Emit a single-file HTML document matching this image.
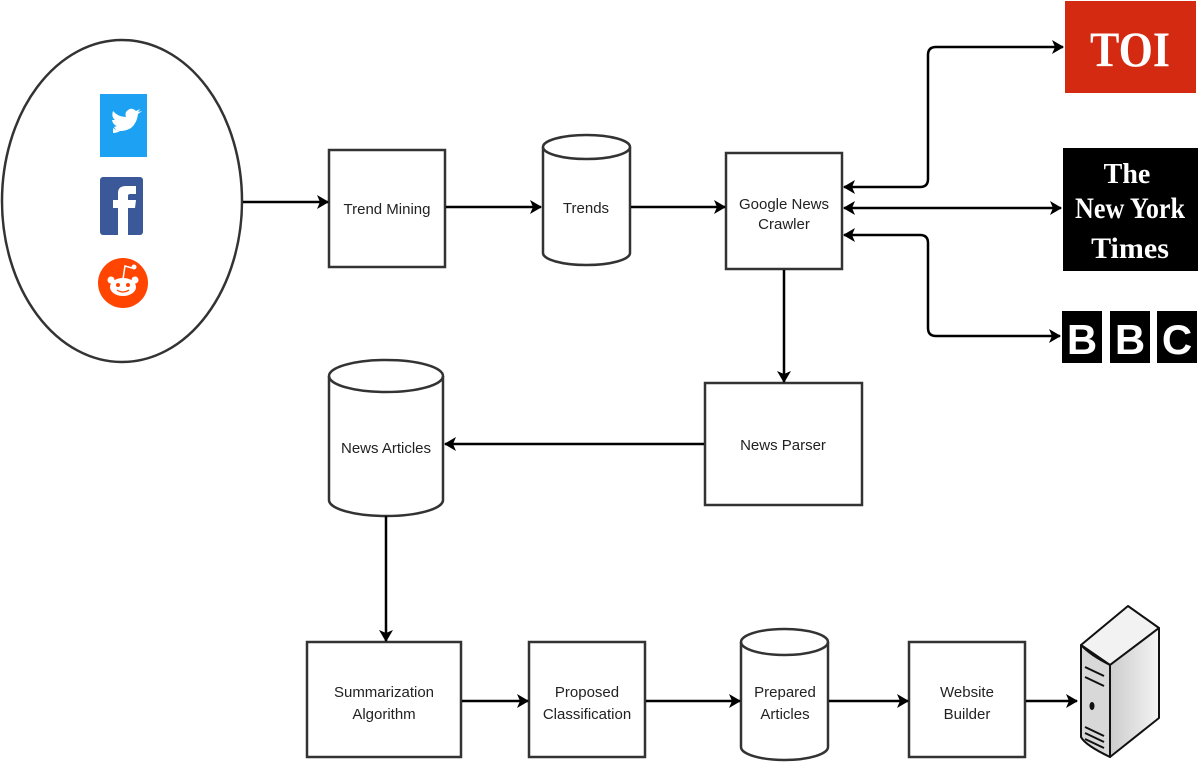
<!DOCTYPE html>
<html><head><meta charset="utf-8"><style>
html,body{margin:0;padding:0;background:#fff;}
svg{display:block}
text{font-family:"Liberation Sans",sans-serif;font-size:15px;fill:#222;}
</style></head><body>
<svg width="1200" height="763" viewBox="0 0 1200 763" xmlns="http://www.w3.org/2000/svg">
<defs>
<marker id="a" markerWidth="12" markerHeight="14" refX="11" refY="7" orient="auto" markerUnits="userSpaceOnUse"><path d="M0,0 L12,7 L0,14 L3,7 Z" fill="#000"/></marker>
<marker id="as" markerWidth="12" markerHeight="14" refX="1" refY="7" orient="auto" markerUnits="userSpaceOnUse"><path d="M12,0 L0,7 L12,14 L9,7 Z" fill="#000"/></marker>
<linearGradient id="g" x1="0" x2="1"><stop offset="0" stop-color="#ccc"/><stop offset="1" stop-color="#f4f4f4"/></linearGradient>
</defs>
<g fill="none" stroke="#333" stroke-width="2.5">
<ellipse cx="122" cy="201" rx="120" ry="161"/>
<rect x="329" y="150" width="116" height="117"/>
<rect x="726" y="153" width="116" height="116"/>
<rect x="705" y="383" width="157" height="122"/>
<rect x="307" y="642" width="154" height="115"/>
<rect x="529" y="642" width="116" height="115"/>
<rect x="909" y="642" width="116" height="115"/>
<path d="M543,147 V253 A43.5,12 0 0 0 630,253 V147"/><ellipse cx="586.5" cy="147" rx="43.5" ry="12"/>
<path d="M329,376 V500 A57,16 0 0 0 443,500 V376"/><ellipse cx="386" cy="376" rx="57" ry="16"/>
<path d="M741,642 V747 A43.5,13 0 0 0 828,747 V642"/><ellipse cx="784.5" cy="642" rx="43.5" ry="13"/>
</g>
<g fill="none" stroke="#000" stroke-width="2.5">
<line x1="243" y1="202" x2="328" y2="202" marker-end="url(#a)"/>
<line x1="446" y1="207" x2="541" y2="207" marker-end="url(#a)"/>
<line x1="631" y1="207" x2="725" y2="207" marker-end="url(#a)"/>
<path d="M844,187 H920 Q928,187 928,179 V55 Q928,47 936,47 H1063" marker-start="url(#as)" marker-end="url(#a)"/>
<line x1="844" y1="208" x2="1061" y2="208" marker-start="url(#as)" marker-end="url(#a)"/>
<path d="M844,235 H920 Q928,235 928,243 V328 Q928,336 936,336 H1060" marker-start="url(#as)" marker-end="url(#a)"/>
<line x1="784" y1="270" x2="784" y2="382" marker-end="url(#a)"/>
<line x1="704" y1="444" x2="445" y2="444" marker-end="url(#a)"/>
<line x1="386" y1="516" x2="386" y2="641" marker-end="url(#a)"/>
<line x1="462" y1="701" x2="528" y2="701" marker-end="url(#a)"/>
<line x1="646" y1="701" x2="740" y2="701" marker-end="url(#a)"/>
<line x1="829" y1="701" x2="908" y2="701" marker-end="url(#a)"/>
<line x1="1026" y1="701" x2="1077" y2="701" marker-end="url(#a)"/>
</g>
<rect x="100" y="94" width="47" height="63" fill="#1da1f2"/>
<path d="M113,128 q8,6 18,0 q6,-5 7,-14 l4,-3 -4,1 2,-3 -4,2 q-5,-5 -10,1 q-1,3 0,5 q-8,0 -13,-6 q-2,6 2,9 l-3,0 q1,5 5,6 l-3,1 q2,4 6,4 q-3,2 -7,2z" fill="#fff"/>
<rect x="100" y="177" width="43" height="58" rx="3" fill="#3b5998"/>
<path d="M118,235 V208 H113 V200 H118 V193 Q118,186 126,186 H136 V194 H130 Q128,194 128,196 V200 H136 L135,208 H128 V235Z" fill="#fff"/>
<circle cx="123" cy="283" r="25" fill="#ff4500"/>
<ellipse cx="123" cy="287" rx="13" ry="9" fill="#fff"/>
<circle cx="111" cy="280" r="3.5" fill="#fff"/><circle cx="135" cy="280" r="3.5" fill="#fff"/>
<path d="M123,279 L125,266 L132,268" stroke="#fff" stroke-width="1.5" fill="none"/><circle cx="134" cy="267" r="2.5" fill="#fff"/>
<circle cx="118" cy="285" r="2" fill="#ff4500"/><circle cx="128" cy="285" r="2" fill="#ff4500"/>
<path d="M117,290 q6,4 12,0" stroke="#ff4500" stroke-width="1.3" fill="none"/>
<rect x="1065" y="1" width="131" height="92" fill="#d42a12"/>
<text x="1130" y="66" text-anchor="middle" textLength="80" lengthAdjust="spacingAndGlyphs" style="font-family:'Liberation Serif',serif;font-size:50px;font-weight:bold;fill:#fff">TOI</text>
<rect x="1063" y="148" width="135" height="123" fill="#000"/>
<text x="1127" y="183" text-anchor="middle" style="font-family:'Liberation Serif',serif;font-size:28px;font-weight:bold;fill:#fff">The</text>
<text x="1130" y="218" text-anchor="middle" textLength="110" lengthAdjust="spacingAndGlyphs" style="font-family:'Liberation Serif',serif;font-size:30px;font-weight:bold;fill:#fff">New York</text>
<text x="1130" y="258" text-anchor="middle" style="font-family:'Liberation Serif',serif;font-size:30px;font-weight:bold;fill:#fff">Times</text>
<rect x="1062" y="311" width="40" height="52" fill="#000"/><rect x="1110" y="311" width="40" height="52" fill="#000"/><rect x="1157" y="311" width="40" height="52" fill="#000"/>
<g text-anchor="middle">
<text x="1082" y="354" style="font-size:42px;font-weight:bold;fill:#fff">B</text><text x="1130" y="354" style="font-size:42px;font-weight:bold;fill:#fff">B</text><text x="1177" y="354" style="font-size:42px;font-weight:bold;fill:#fff">C</text></g>
<g stroke="#111" stroke-width="2" stroke-linejoin="round">
<path d="M1081,645 L1128,606 L1159,628 L1110,665 Z" fill="#f2f2f2"/>
<path d="M1110,665 L1159,628 L1159,718 L1110,757 Z" fill="url(#g)"/>
<path d="M1081,645 Q1090,655 1110,665 L1110,757 Q1085,745 1081,737 Z" fill="#d8d8d8"/>
</g>
<g stroke="#111" stroke-width="2"><line x1="1085" y1="667" x2="1104" y2="676"/><line x1="1085" y1="677" x2="1104" y2="686"/>
<line x1="1085" y1="727" x2="1104" y2="736"/><line x1="1085" y1="733" x2="1104" y2="742"/><line x1="1085" y1="739" x2="1104" y2="748"/></g>
<ellipse cx="1092" cy="706" rx="2.5" ry="4" fill="#111"/>
<g text-anchor="middle">
<text x="387" y="214">Trend Mining</text>
<text x="586" y="213">Trends</text>
<text x="784" y="209">Google News</text><text x="784" y="229">Crawler</text>
<text x="783" y="450">News Parser</text>
<text x="386" y="453">News Articles</text>
<text x="384" y="697">Summarization</text><text x="384" y="719">Algorithm</text>
<text x="587" y="697">Proposed</text><text x="587" y="719">Classification</text>
<text x="785" y="697">Prepared</text><text x="785" y="719">Articles</text>
<text x="967" y="697">Website</text><text x="967" y="719">Builder</text>
</g>
</svg>
</body></html>
